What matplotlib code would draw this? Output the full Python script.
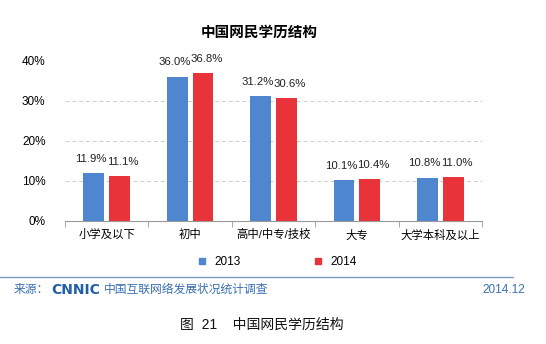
import numpy as np
import matplotlib.pyplot as plt

plt.rcParams['font.family'] = ['Liberation Sans', 'Noto Sans CJK SC', 'DejaVu Sans']

categories = ["小学及以下", "初中", "高中/中专/技校", "大专", "大学本科及以上"]
years = ["2013", "2014"]
values_2013 = [11.9, 36.0, 31.2, 10.1, 10.8]
values_2014 = [11.1, 36.8, 30.6, 10.4, 11.0]
colors = ["#4F86D0", "#E8333B"]

fig = plt.figure(figsize=(5.46, 3.44), dpi=100)
ax = fig.add_axes([0.119, 0.358, 0.764, 0.466])

x = np.arange(len(categories))
w = 0.25
off = 0.155
b1 = ax.bar(x - off, values_2013, w, color=colors[0], label=years[0], zorder=3)
b2 = ax.bar(x + off, values_2014, w, color=colors[1], label=years[1], zorder=3)

# подписи над столбцами
for bars, vals, dx in ((b1, values_2013, -2), (b2, values_2014, 2.5)):
    for rect, v in zip(bars, vals):
        ax.annotate("%.1f%%" % v, (rect.get_x() + rect.get_width() / 2, v + 2.3),
                    xytext=(dx, 0), textcoords="offset points",
                    ha="center", va="bottom", fontsize=8.2, color="#222222")

ax.set_ylim(0, 40)
ax.set_xlim(-0.5, len(categories) - 0.5)
ax.set_yticks([0, 10, 20, 30, 40])
ax.set_yticklabels(["0%", "10%", "20%", "30%", "40%"], fontsize=8.5)
ax.set_xticks(x)
ax.set_xticklabels(categories, fontsize=8.2)
ax.set_xticks(np.arange(-0.5, len(categories)), minor=True)
ax.tick_params(axis="x", which="major", length=0, pad=6)
ax.tick_params(axis="x", which="minor", length=4, color="#999999")
ax.tick_params(axis="y", length=0, pad=14)
for s in ["top", "right", "left"]:
    ax.spines[s].set_visible(False)
ax.spines["bottom"].set_color("#999999")
ax.grid(axis="y", linestyle=(0, (4, 3)), color="#cccccc", linewidth=0.7, zorder=0)
ax.yaxis.get_gridlines()[-1].set_visible(False)  # без линии на 40%

ax.legend(handles=[plt.Line2D([], [], marker="s", ls="", color=c, markersize=4) for c in colors],
          labels=years, loc="upper center", bbox_to_anchor=(0.5, -0.155), ncol=2,
          frameon=False, fontsize=8.5, handletextpad=0.1, columnspacing=5.5)

fig.text(0.475, 0.905, "中国网民学历结构", ha="center", va="center", fontsize=10.5, fontweight="bold")

# нижний колонтитул
fig.add_artist(plt.Line2D([0, 0.94], [0.195, 0.195], color="#7a9cc0", linewidth=1.0))
fig.text(0.025, 0.158, "来源：", fontsize=8.5, color="#3a6fb3", va="center")
fig.text(0.093, 0.158, "CNNIC", fontsize=10, color="#1f5fa8", va="center", fontweight="bold",
         family="DejaVu Sans")
fig.text(0.19, 0.158, "中国互联网络发展状况统计调查", fontsize=8.5, color="#3a6fb3", va="center")
fig.text(0.962, 0.158, "2014.12", fontsize=8.5, color="#3a6fb3", va="center", ha="right")

fig.text(0.48, 0.055, "图  21    中国网民学历结构", fontsize=10, ha="center", va="center", color="#111111")

fig.savefig("out.png", dpi=100, facecolor="white")
